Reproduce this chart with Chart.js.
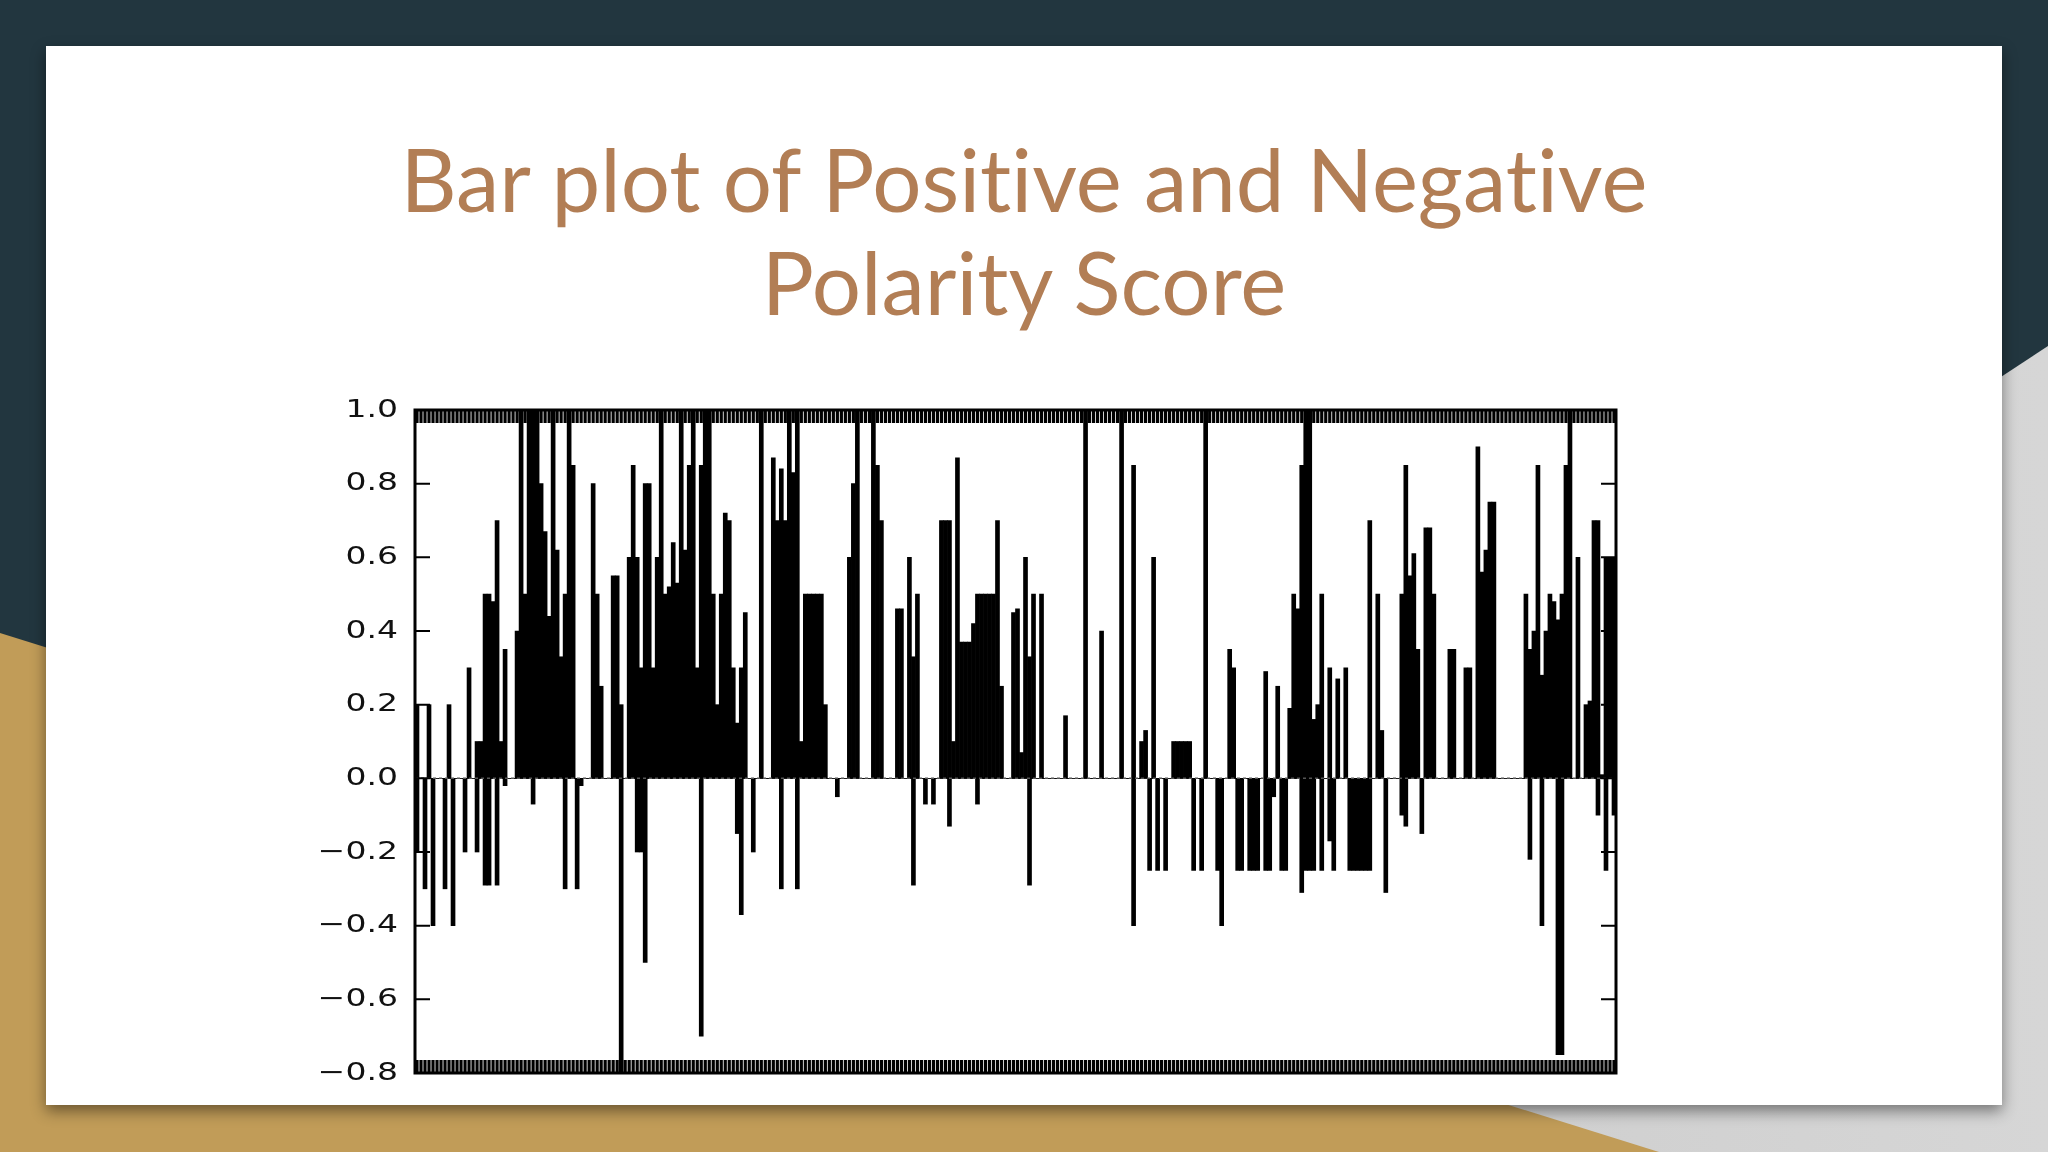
<!DOCTYPE html>
<html>
<head>
<meta charset="utf-8">
<script src="https://cdn.jsdelivr.net/npm/chart.js@4.4.1/dist/chart.umd.min.js"></script>
<style>
    html, body { margin: 0; padding: 0; }
    body { width: 2048px; height: 1152px; position: relative; overflow: hidden; background: #22363f; }
    .grey { position: absolute; inset: 0; background: linear-gradient(to right, #bdbdbd, #d6d6d6); clip-path: polygon(2048px 346px, 2048px 1152px, 821px 1152px); }
    .gold { position: absolute; inset: 0; background: #c19c58; clip-path: polygon(0 633px, 1659px 1152px, 0 1152px); }
    .card { position: absolute; left: 46px; top: 46px; width: 1956px; height: 1059px; background: #ffffff; box-shadow: 0 6px 14px rgba(0,0,0,0.45); }
    .title { position: absolute; left: 46px; top: 127px; width: 1956px; text-align: center; font-family: Lato, sans-serif; font-size: 87px; line-height: 103px; color: #b27e55; font-variant-ligatures: none; }
    #wrap { position: absolute; left: 300px; top: 380px; width: 1340px; height: 720px; }
</style>
</head>
<body>
<div class="grey"></div>
<div class="gold"></div>
<div class="card"></div>
<div class="title">Bar plot of Positive and Negative<br>Polarity Score</div>
<div id="wrap"><canvas id="chartPolarity"></canvas></div>
<script>
// 300 samples, positive and negative polarity score of each one
const positive = [
    0.2,0,0,0.2,0,0,0,0,0.2,0,0,0,0,0.3,0,0.1,0.1,0.5,0.5,0.48,
    0.7,0.1,0.35,0,0,0.4,1,0.5,1,1,1,0.8,0.67,0.44,1,0.62,0.33,0.5,1,0.85,
    0,0,0,0,0.8,0.5,0.25,0,0,0.55,0.55,0.2,0,0.6,0.85,0.6,0.3,0.8,0.8,0.3,
    0.6,1,0.5,0.52,0.64,0.53,1,0.62,0.85,1,0.3,0.85,1,1,0.5,0.2,0.5,0.72,0.7,0.3,
    0.15,0.3,0.45,0,0,0,1,0,0,0.87,0.7,0.84,0.7,1,0.83,1,0.1,0.5,0.5,0.5,
    0.5,0.5,0.2,0,0,0,0,0,0.6,0.8,1,0,0,0,1,0.85,0.7,0,0,0,
    0.46,0.46,0,0.6,0.33,0.5,0,0,0,0,0,0.7,0.7,0.7,0.1,0.87,0.37,0.37,0.37,0.42,
    0.5,0.5,0.5,0.5,0.5,0.7,0.25,0,0,0.45,0.46,0.07,0.6,0.33,0.5,0,0.5,0,0,0,
    0,0,0.17,0,0,0,0,1,0,0,0,0.4,0,0,0,0,1,0,0,0.85,
    0,0.1,0.13,0,0.6,0,0,0,0,0.1,0.1,0.1,0.1,0.1,0,0,0,1,0,0,
    0,0,0,0.35,0.3,0,0,0,0,0,0,0,0.29,0,0,0.25,0,0,0.19,0.5,
    0.46,0.85,1,1,0.16,0.2,0.5,0,0.3,0,0.27,0,0.3,0,0,0,0,0,0.7,0,
    0.5,0.13,0,0,0,0,0.5,0.85,0.55,0.61,0.35,0,0.68,0.68,0.5,0,0,0,0.35,0.35,
    0,0,0.3,0.3,0,0.9,0.56,0.62,0.75,0.75,0,0,0,0,0,0,0,0.5,0.35,0.4,
    0.85,0.28,0.4,0.5,0.48,0.43,0.5,0.85,1,0,0.6,0,0.2,0.21,0.7,0.7,0.01,0.6,0.6,0.6
];
const negative = [
    -0.2,0,-0.3,0,-0.4,0,0,-0.3,0,-0.4,0,0,-0.2,0,0,-0.2,0,-0.29,-0.29,0,
    -0.29,0,-0.02,0,0,0,0,0,0,-0.07,0,0,0,0,0,0,0,-0.3,0,0,
    -0.3,-0.02,0,0,0,0,0,0,0,0,0,-0.8,0,0,0,-0.2,-0.2,-0.5,0,0,
    0,0,0,0,0,0,0,0,0,0,0,-0.7,0,0,0,0,0,0,0,0,
    -0.15,-0.37,0,0,-0.2,0,0,0,0,0,0,-0.3,0,0,0,-0.3,0,0,0,0,
    0,0,0,0,0,-0.05,0,0,0,0,0,0,0,0,0,0,0,0,0,0,
    0,0,0,0,-0.29,0,0,-0.07,0,-0.07,0,0,0,-0.13,0,0,0,0,0,0,
    -0.07,0,0,0,0,0,0,0,0,0,0,0,0,-0.29,0,0,0,0,0,0,
    0,0,0,0,0,0,0,0,0,0,0,0,0,0,0,0,0,0,0,-0.4,
    0,0,0,-0.25,0,-0.25,0,-0.25,0,0,0,0,0,0,-0.25,0,-0.25,0,0,0,
    -0.25,-0.4,0,0,0,-0.25,-0.25,0,-0.25,-0.25,-0.25,0,-0.25,-0.25,-0.05,0,-0.25,-0.25,0,0,
    0,-0.31,-0.25,-0.25,-0.25,0,-0.25,0,-0.17,-0.25,0,0,0,-0.25,-0.25,-0.25,-0.25,-0.25,-0.25,0,
    0,0,-0.31,0,0,0,-0.1,-0.13,0,0,0,-0.15,0,0,0,0,0,0,0,0,
    0,0,0,0,0,0,0,0,0,0,0,0,0,0,0,0,0,0,-0.22,0,
    0,-0.4,0,0,0,-0.75,-0.75,0,0,0,0,0,0,0,0,-0.1,0,-0.25,0,-0.1
];
const labels = positive.map((v, i) => String(i));
const yMin = -0.8, yMax = 1.0, yStep = 0.2;

const fmt = v => (v < -1e-9 ? "\u2212" : "") + Math.abs(v).toFixed(1);

// matplotlib style frame: inward ticks on every side, dotted zero line, wide tick labels
const frame = {
    id: "frame",
    afterDatasetsDraw(chart) {
        const { ctx, chartArea: a, scales: { x, y } } = chart;
        ctx.save();

        const y0 = y.getPixelForValue(0);
        ctx.strokeStyle = "#555";
        ctx.lineWidth = 1.5;
        ctx.setLineDash([3, 3]);
        ctx.beginPath();
        ctx.moveTo(a.left, y0);
        ctx.lineTo(a.right, y0);
        ctx.stroke();
        ctx.setLineDash([]);

        ctx.strokeStyle = "#000";
        ctx.lineWidth = 3.2;
        ctx.beginPath();
        labels.forEach((l, i) => {
            const px = x.getPixelForValue(i);
            ctx.moveTo(px, a.top);
            ctx.lineTo(px, a.top + 13);
            ctx.moveTo(px, a.bottom);
            ctx.lineTo(px, a.bottom - 13);
        });
        ctx.stroke();

        ctx.lineWidth = 2;
        ctx.beginPath();
        y.ticks.forEach(t => {
            const py = y.getPixelForValue(t.value);
            ctx.moveTo(a.left, py);
            ctx.lineTo(a.left + 15, py);
            ctx.moveTo(a.right, py);
            ctx.lineTo(a.right - 15, py);
        });
        ctx.stroke();

        ctx.lineWidth = 3;
        ctx.strokeRect(a.left, a.top, a.right - a.left, a.bottom - a.top);

        ctx.fillStyle = "#111";
        ctx.font = "25px 'DejaVu Sans', sans-serif";
        ctx.textAlign = "right";
        ctx.textBaseline = "middle";
        y.ticks.forEach(t => {
            ctx.save();
            ctx.translate(a.left - 17, y.getPixelForValue(t.value));
            ctx.scale(1.32, 1);
            ctx.fillText(fmt(t.value), 0, 0);
            ctx.restore();
        });
        ctx.restore();
    }
};

new Chart(document.getElementById("chartPolarity"), {
    type: "bar",
    data: {
        labels: labels,
        datasets: [
            { label: "Positive", data: positive, backgroundColor: "#000", borderWidth: 0 },
            { label: "Negative", data: negative, backgroundColor: "#000", borderWidth: 0 }
        ]
    },
    options: {
        responsive: true,
        maintainAspectRatio: false,
        animation: false,
        grouped: false,
        barPercentage: 1.0,
        categoryPercentage: 1.0,
        layout: { padding: { left: 0, right: 24, top: 30, bottom: 27 } },
        plugins: { legend: { display: false }, tooltip: { enabled: false } },
        scales: {
            x: { display: false },
            y: {
                min: yMin,
                max: yMax,
                grid: { display: false },
                border: { display: false },
                afterFit(scale) { scale.width = 115; },
                ticks: { stepSize: yStep, display: false }
            }
        }
    },
    plugins: [frame]
});
</script>
</body>
</html>
